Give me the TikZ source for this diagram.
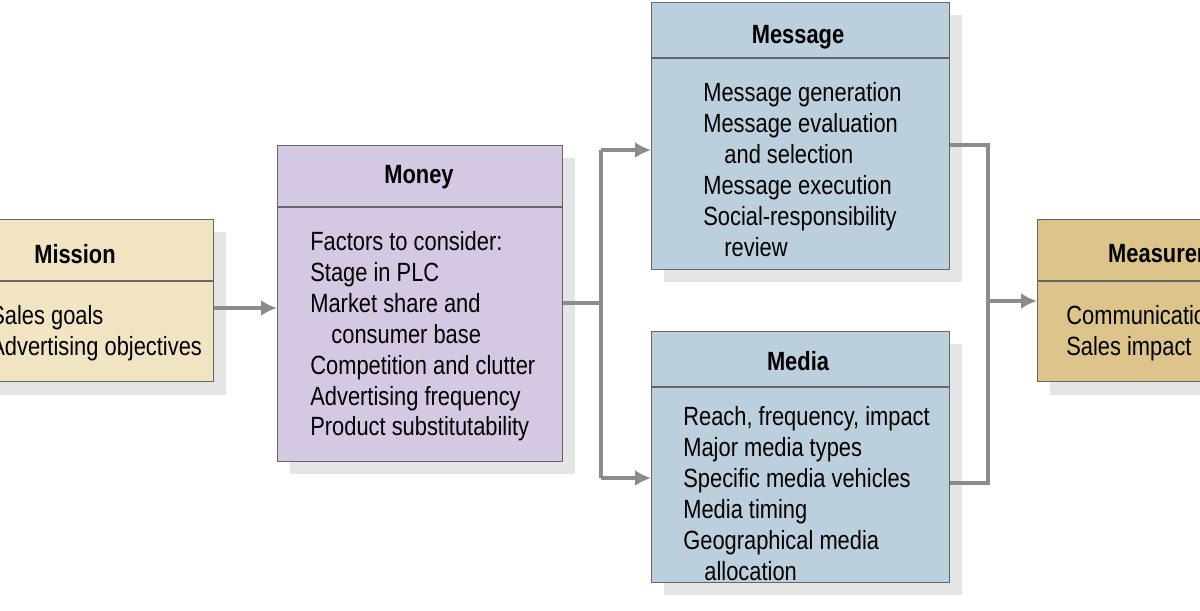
\documentclass[tikz,border=0pt]{standalone}
\usepackage{fontspec}
\setmainfont{Liberation Sans}[FakeStretch=0.83]
\usetikzlibrary{arrows.meta}
\begin{document}
\begin{tikzpicture}[x=0.02cm,y=-0.02cm,
  boxs/.style={draw=black!60,line width=0.8pt,inner sep=0,anchor=north west},
  shad/.style={fill=black!10,draw=none},
  ttl/.style={font=\fontsize{15}{17.6}\selectfont\bfseries,anchor=center},
  body/.style={font=\fontsize{15}{17.6}\selectfont,align=left,anchor=north west,inner sep=0},
  conn/.style={draw=black!45,line width=2.2pt},
  arr/.style={conn,-{Latex[length=9pt,width=9pt]}}]
\useasboundingbox (0,0) rectangle (1200,611);
\clip (0,0) rectangle (1200,611);
\fill[white] (0,0) rectangle (1200,611);
% shadows
\fill[shad] (-50,232) rectangle (226,395);
\fill[shad] (290,158) rectangle (575,474);
\fill[shad] (664,15) rectangle (962,282);
\fill[shad] (664,344) rectangle (962,595);
\fill[shad] (1050,232) rectangle (1300,395);
% boxes
\node[boxs,fill={rgb,255:red,240;green,228;blue,194},minimum width=276*0.02cm,minimum height=162*0.02cm] (mis) at (-63,219) {};
\node[boxs,fill={rgb,255:red,212;green,200;blue,226},minimum width=285*0.02cm,minimum height=316*0.02cm] (mon) at (277,145) {};
\node[boxs,fill={rgb,255:red,188;green,207;blue,220},minimum width=298*0.02cm,minimum height=267*0.02cm] (msg) at (651,2) {};
\node[boxs,fill={rgb,255:red,188;green,207;blue,220},minimum width=298*0.02cm,minimum height=251*0.02cm] (med) at (651,331) {};
\node[boxs,fill={rgb,255:red,220;green,196;blue,138},minimum width=276*0.02cm,minimum height=162*0.02cm] (mea) at (1037,219) {};
% header lines
\draw[black!60,line width=0.8pt] (-63,281) -- (213,281);
\draw[black!60,line width=0.8pt] (277,207) -- (562,207);
\draw[black!60,line width=0.8pt] (651,58) -- (949,58);
\draw[black!60,line width=0.8pt] (651,387) -- (949,387);
\draw[black!60,line width=0.8pt] (1037,281) -- (1313,281);
% titles
\node[ttl] (t1) at (75,254) {Mission};
\node[ttl] (t2) at (419,177) {Money};
\node[ttl] (t3) at (798,37) {Message};
\node[ttl] (t4) at (798,361) {Media};
\node[ttl,anchor=west] (t5) at (1102,254) {Measurement};
% bodies
\node[body] (b1) at (-10,305) {Sales goals\\Advertising objectives};
\node[body] (b2) at (310,231) {Factors to consider:\\Stage in PLC\\Market share and\\\hspace{0.8em}consumer base\\Competition and clutter\\Advertising frequency\\Product substitutability};
\node[body] (b3) at (703,82) {Message generation\\Message evaluation\\\hspace{0.8em}and selection\\Message execution\\Social-responsibility\\\hspace{0.8em}review};
\node[body] (b4) at (683,406) {Reach, frequency, impact\\Major media types\\Specific media vehicles\\Media timing\\Geographical media\\\hspace{0.8em}allocation};
\node[body] (b5) at (1066,305) {Communication impact\\Sales impact};
% connectors
\coordinate (j1) at (601,303);
\coordinate (j2) at (988,301);
\draw[arr] (mis.east |- 0,308) -- (mon.west |- 0,308);
\draw[conn] (mon.east |- j1) -- (j1);
\draw[arr] (601,150) -- (msg.west |- 0,150);
\draw[arr] (601,478) -- (med.west |- 0,478);
\draw[conn] (601,150) -- (601,478);
\draw[conn] (msg.east |- 0,145) -- (988,145) -- (988,483) -- (med.east |- 0,483);
\draw[arr] (j2) -- (mea.west |- j2);
\end{tikzpicture}
\end{document}
